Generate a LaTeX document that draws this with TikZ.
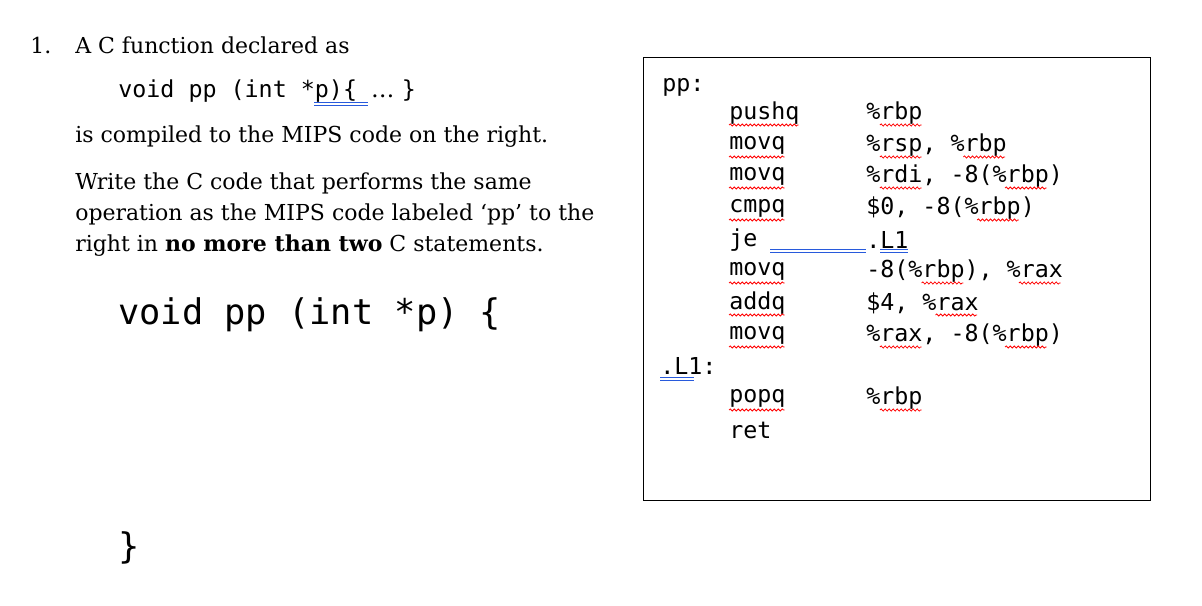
\documentclass[tikz,border=0pt]{standalone}
\usepackage{fontspec}
\setmainfont{DejaVu Serif}
\setmonofont{DejaVu Sans Mono}
\usetikzlibrary{decorations.pathmorphing}
\definecolor{blu}{RGB}{40,90,220}
\begin{document}
\begin{tikzpicture}[x=0.75pt,y=-0.75pt,
  txt/.style={anchor=west,inner sep=0,font=\fontsize{16.5}{18}\selectfont},
  code/.style={anchor=west,inner sep=0,font=\ttfamily\fontsize{17.5}{19}\selectfont},
  big/.style={anchor=west,inner sep=0,font=\ttfamily\fontsize{26.5}{28}\selectfont},
  sq/.style={draw=red,line width=0.6pt,decorate,decoration={snake,amplitude=0.8pt,segment length=3pt}},
  bl/.style={draw=blu,line width=0.6pt}]
\useasboundingbox (0,0) rectangle (1202,606);
\fill[white] (0,0) rectangle (1202,606);
\node[txt] (n1) at (30,45) {1.};
\node[txt] (t1) at (75,45) {A C function declared as};
\node[code] (t2) at (118,91) {void pp (int *p)\{ \rmfamily… \ttfamily\}};
\node[txt] (t3) at (75,137) {is compiled to the MIPS code on the right.};
\node[txt] (t4) at (75,183) {Write the C code that performs the same};
\node[txt] (t5) at (75,214) {operation as the MIPS code labeled ‘pp’ to the};
\node[txt] (t6) at (75,246) {right in \textbf{no more than two} C statements.};
\node[big] (b1) at (118,315) {void pp (int *p) \{};
\node[big] (b2) at (118,548) {\}};
\draw[bl] (314,102) -- (368,102); \draw[bl] (314,105) -- (368,105);
\node[draw,line width=1pt,minimum width=507*0.75pt,minimum height=443*0.75pt,anchor=north west,inner sep=0] (box) at (643,57) {};
\node[code] (pp) at (662,87) {pp:};
\foreach \i/\ins/\op/\yy in {
 a/pushq/\%rbp/113,
 b/movq/{\%rsp, \%rbp}/145,
 c/movq/{\%rdi, -8(\%rbp)}/176,
 d/cmpq/{\$0, -8(\%rbp)}/208,
 e/je/.L1/240,
 f/movq/{-8(\%rbp), \%rax}/271,
 g/addq/{\$4, \%rax}/303,
 h/movq/{\%rax, -8(\%rbp)}/335,
 i/popq/\%rbp/398,
 j/ret//430}{
  \node[code] (ins\i) at (729,\yy) {\ins};
  \node[code] (op\i) at (866,\yy) {\op};
}
\node[code] (l1) at (660,366) {.L1:};
\foreach \c/\yy in {5/113,4/145,4/176,4/208,4/271,4/303,4/335,4/398}
  \draw[sq] (729,\yy+12) -- (729+13.9*\c,\yy+12);
\foreach \a/\b/\yy in {1/4/113, 1/4/145, 7/10/145, 1/4/176, 10/13/176, 8/11/208,
   4/7/271, 11/14/271, 5/8/303, 1/4/335, 10/13/335, 1/4/398}
  \draw[sq] (866+13.9*\a,\yy+12) -- (866+13.9*\b,\yy+12);
\draw[bl] (770,249) -- (866,249); \draw[bl] (770,252) -- (866,252);
\draw[bl] (880,249) -- (908,249); \draw[bl] (880,252) -- (908,252);
\draw[bl] (660,377) -- (694,377); \draw[bl] (660,380) -- (694,380);
\end{tikzpicture}
\end{document}
